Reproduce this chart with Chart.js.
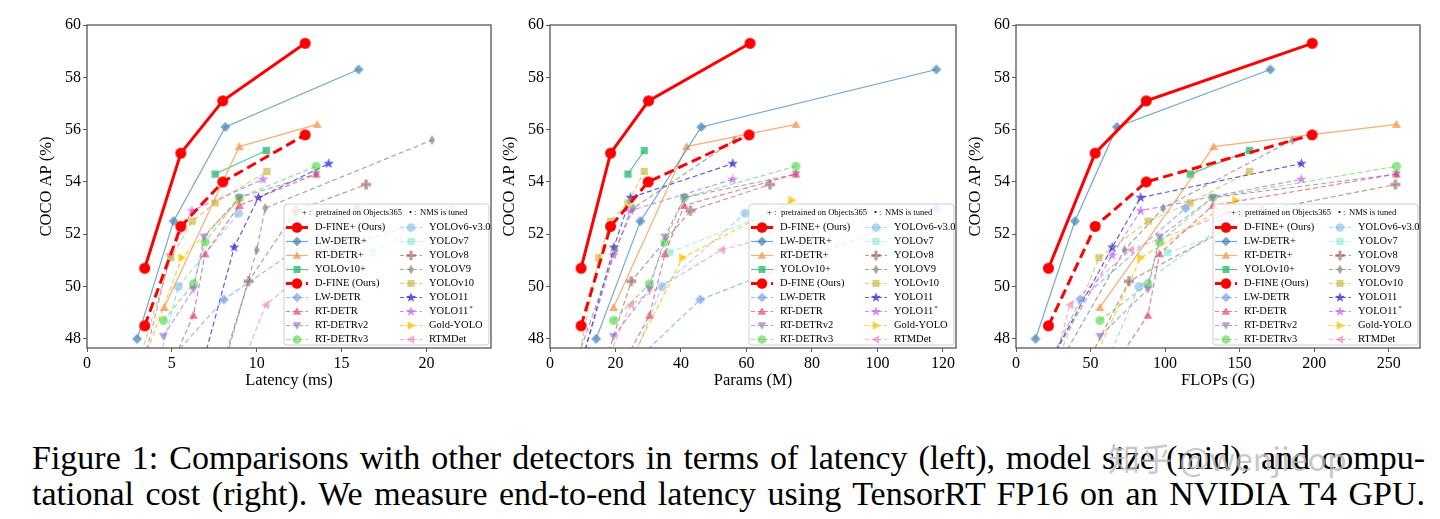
<!DOCTYPE html>
<html><head><meta charset="utf-8">
<script src="https://cdn.jsdelivr.net/npm/chart.js@4.4.1/dist/chart.umd.min.js"></script>
<style>
html,body{margin:0;padding:0;background:#fff;}
body{width:1440px;height:519px;position:relative;overflow:hidden;}
canvas{position:absolute;top:0;}
.cap{position:absolute;left:32px;font-family:'Liberation Serif','Times New Roman',serif;font-size:34px;line-height:36px;white-space:nowrap;color:#000;display:inline-block;}
.wm{position:absolute;left:1108px;top:437px;font-family:'Noto Sans CJK SC','Noto Sans',sans-serif;font-size:32px;line-height:40px;color:rgba(185,185,185,0.8);white-space:nowrap;}
</style></head><body>
<canvas id="c1" width="500" height="400" style="left:0px"></canvas>
<canvas id="c2" width="500" height="400" style="left:463px"></canvas>
<canvas id="c3" width="500" height="400" style="left:929px"></canvas>
<div class="cap" id="l1" style="top:440px">Figure 1: Comparisons with other detectors in terms of latency (left), model size (mid), and compu-</div>
<div class="cap" id="l2" style="top:476px">tational cost (right). We measure end-to-end latency using TensorRT FP16 on an NVIDIA T4 GPU.</div>
<div class="wm">知乎 @wenjieop</div>
<script>
// ---------------- data (AP in %, latency ms, params M, FLOPs G) ----------------
const apDfinePlus = [50.7, 55.1, 57.1, 59.3];
const latDfinePlus = [3.4, 5.53, 8.0, 12.85];
const parDfinePlus = [9.5, 18.5, 30.1, 61.1];
const flopDfinePlus = [21.8, 53.1, 87.4, 198.7];

const apDfine = [48.5, 52.3, 54.0, 55.8];
const latDfine = [3.4, 5.53, 8.0, 12.85];
const parDfine = [9.5, 18.5, 30.0, 60.8];
const flopDfine = [21.8, 53.1, 87.4, 198.6];

const apLwPlus = [48.0, 52.5, 56.1, 58.3];
const latLwPlus = [2.95, 5.1, 8.15, 16.0];
const parLwPlus = [14.1, 27.6, 46.2, 118.0];
const flopLwPlus = [13.1, 39.5, 67.7, 170.6];

const apRtPlus = [49.2, 55.35, 56.2];
const latRtPlus = [4.55, 8.97, 13.56];
const parRtPlus = [19.4, 41.7, 75.1];
const flopRtPlus = [56.3, 132.6, 255.2];

const apY10Plus = [54.3, 55.2];
const latY10Plus = [7.55, 10.56];
const parY10Plus = [23.8, 28.8];
const flopY10Plus = [116.9, 156.7];

const apLw = [47.4, 49.5, 53.0];
const latLw = [5.16, 8.06, 15.9];
const parLw = [28.2, 45.9, 118.0];
const flopLw = [25.0, 43.3, 113.8];

const apRt = [46.5, 48.9, 51.25, 53.1, 54.3];
const latRt = [4.63, 6.27, 6.96, 8.97, 13.5];
const parRt = [20.0, 30.4, 35.1, 41.0, 75.1];
const flopRt = [60.0, 88.5, 96.3, 132.0, 255.2];

const apRtv2 = [48.1, 49.9, 51.9, 53.4, 54.3];
const latRtv2 = [4.5, 6.27, 6.9, 8.97, 13.5];
const parRtv2 = [19.4, 30.4, 35.1, 41.0, 75.1];
const flopRtv2 = [56.3, 88.5, 96.3, 132.0, 255.2];

const apRtv3 = [48.7, 50.1, 51.7, 53.4, 54.6];
const latRtv3 = [4.5, 6.27, 6.96, 8.97, 13.5];
const parRtv3 = [19.4, 30.4, 35.1, 41.0, 75.1];
const flopRtv3 = [56.3, 88.5, 96.3, 132.0, 255.2];

const apY6 = [45.0, 50.0, 52.8];
const latY6 = [3.4, 5.38, 8.93];
const parY6 = [18.5, 34.2, 59.6];
const flopY6 = [45.3, 82.4, 150.7];

const apY7 = [51.3, 53.0];
const latY7 = [16.8, 21.5];
const parY7 = [36.5, 71.2];
const flopY7 = [101.5, 189.9];

const apY8 = [44.9, 50.2, 52.9, 53.9];
const latY8 = [6.96, 9.52, 12.31, 16.44];
const parY8 = [11.2, 24.8, 42.9, 67.2];
const flopY8 = [28.6, 75.7, 165.0, 254.5];

const apY9 = [46.8, 51.4, 53.0, 55.6];
const latY9 = [8.0, 10.0, 10.5, 20.33];
const parY9 = [7.1, 20.0, 25.5, 56.4];
const flopY9 = [26.4, 72.8, 98.8, 185.4];

const apY10 = [46.3, 51.1, 52.5, 53.2, 54.4];
const latY10 = [2.65, 4.94, 6.2, 7.55, 10.6];
const parY10 = [7.2, 14.9, 18.5, 23.8, 28.8];
const flopY10 = [21.6, 55.6, 88.7, 116.9, 156.7];

const apY11 = [47.0, 51.5, 53.4, 54.7];
const latY11 = [6.8, 8.67, 10.1, 14.24];
const parY11 = [9.4, 19.5, 24.6, 55.8];
const flopY11 = [21.5, 64.5, 83.6, 191.4];

const apY11s = [47.0, 51.2, 52.9, 54.1];
const latY11s = [3.3, 4.9, 6.18, 10.37];
const parY11s = [9.4, 19.4, 24.6, 55.8];
const flopY11s = [21.5, 64.5, 83.6, 191.4];

const apGold = [46.4, 51.1, 53.3];
const latGold = [2.9, 5.58, 8.97];
const parGold = [21.5, 40.5, 73.9];
const flopGold = [46.0, 83.6, 147.3];

const apRtm = [44.6, 49.3, 51.4, 52.8];
const latRtm = [7.7, 10.53, 14.5, 21.5];
const parRtm = [8.9, 24.6, 52.4, 94.9];
const flopRtm = [14.8, 36.1, 76.8, 141.7];

const apTicks = [48, 50, 52, 54, 56, 58, 60];
const latTicks = [0, 5, 10, 15, 20];
const parTicks = [0, 20, 40, 60, 80, 100, 120];
const flopTicks = [0, 50, 100, 150, 200, 250];

// ---------------- series (values + styles) ----------------
const SERIES = [
  {name:'D-FINE+ (Ours)', ap:apDfinePlus, lat:latDfinePlus, par:parDfinePlus, flop:flopDfinePlus, shape:'circle', color:'rgb(255,0,0)', lw:3, dash:[], size:11},
  {name:'D-FINE (Ours)', ap:apDfine, lat:latDfine, par:parDfine, flop:flopDfine, shape:'circle', color:'rgb(255,0,0)', lw:3, dash:[10,5], size:11},
  {name:'LW-DETR+', ap:apLwPlus, lat:latLwPlus, par:parLwPlus, flop:flopLwPlus, shape:'diamond', color:'rgba(70,135,185,0.75)', lw:1.2, dash:[], size:10},
  {name:'RT-DETR+', ap:apRtPlus, lat:latRtPlus, par:parRtPlus, flop:flopRtPlus, shape:'tri_up', color:'rgba(244,160,90,0.85)', lw:1.2, dash:[], size:9},
  {name:'YOLOv10+', ap:apY10Plus, lat:latY10Plus, par:parY10Plus, flop:flopY10Plus, shape:'square', color:'rgba(50,185,120,0.8)', lw:1.2, dash:[], size:9},
  {name:'LW-DETR', ap:apLw, lat:latLw, par:parLw, flop:flopLw, shape:'diamond', color:'rgba(100,150,237,0.65)', lw:1.2, dash:[5,3], size:10},
  {name:'RT-DETR', ap:apRt, lat:latRt, par:parRt, flop:flopRt, shape:'tri_up', color:'rgba(220,60,100,0.65)', lw:1.2, dash:[5,3], size:9},
  {name:'RT-DETRv2', ap:apRtv2, lat:latRtv2, par:parRtv2, flop:flopRtv2, shape:'tri_down', color:'rgba(140,110,200,0.65)', lw:1.2, dash:[5,3], size:9},
  {name:'RT-DETRv3', ap:apRtv3, lat:latRtv3, par:parRtv3, flop:flopRtv3, shape:'circle', color:'rgba(70,215,60,0.6)', lw:1.2, dash:[5,3], size:9},
  {name:'YOLOv6-v3.0', ap:apY6, lat:latY6, par:parY6, flop:flopY6, shape:'circle', color:'rgba(110,180,230,0.55)', lw:1.2, dash:[5,3], size:9},
  {name:'YOLOv7', ap:apY7, lat:latY7, par:parY7, flop:flopY7, shape:'square', color:'rgba(100,230,190,0.5)', lw:1.2, dash:[5,3], size:9},
  {name:'YOLOv8', ap:apY8, lat:latY8, par:parY8, flop:flopY8, shape:'plus', color:'rgba(150,100,90,0.65)', lw:1.2, dash:[5,3], size:10},
  {name:'YOLOV9', ap:apY9, lat:latY9, par:parY9, flop:flopY9, shape:'thin_diamond', color:'rgba(128,128,128,0.7)', lw:1.2, dash:[5,3], size:10},
  {name:'YOLOv10', ap:apY10, lat:latY10, par:parY10, flop:flopY10, shape:'square', color:'rgba(195,175,40,0.6)', lw:1.2, dash:[5,3], size:9},
  {name:'YOLO11', ap:apY11, lat:latY11, par:parY11, flop:flopY11, shape:'star', color:'rgba(40,40,210,0.75)', lw:1.2, dash:[5,3], size:11},
  {name:'YOLO11*', ap:apY11s, lat:latY11s, par:parY11s, flop:flopY11s, shape:'star', color:'rgba(180,70,220,0.6)', lw:1.2, dash:[5,3], size:11},
  {name:'Gold-YOLO', ap:apGold, lat:latGold, par:parGold, flop:flopGold, shape:'tri_right', color:'rgba(255,195,0,0.8)', lw:1.2, dash:[5,3], size:9},
  {name:'RTMDet', ap:apRtm, lat:latRtm, par:parRtm, flop:flopRtm, shape:'tri_left', color:'rgba(235,120,175,0.6)', lw:1.2, dash:[5,3], size:9}
];
const BYNAME = {}; SERIES.forEach(s => BYNAME[s.name] = s);
const LEGEND_COLS = [
  ['D-FINE+ (Ours)','LW-DETR+','RT-DETR+','YOLOv10+','D-FINE (Ours)','LW-DETR','RT-DETR','RT-DETRv2','RT-DETRv3'],
  ['YOLOv6-v3.0','YOLOv7','YOLOv8','YOLOV9','YOLOv10','YOLO11','YOLO11*','Gold-YOLO','RTMDet']
];

const SERIF = "'Liberation Serif', 'Times New Roman', serif";

function drawShape(ctx, shape, x, y, s, color) {
  const r = s / 2;
  ctx.save();
  ctx.setLineDash([]);
  ctx.fillStyle = color;
  ctx.beginPath();
  if (shape === 'circle') { ctx.arc(x, y, r, 0, Math.PI * 2); }
  else if (shape === 'square') { const h = r * 0.82; ctx.rect(x - h, y - h, 2 * h, 2 * h); }
  else if (shape === 'diamond') { ctx.moveTo(x, y - r); ctx.lineTo(x + r, y); ctx.lineTo(x, y + r); ctx.lineTo(x - r, y); ctx.closePath(); }
  else if (shape === 'thin_diamond') { const w = r * 0.6; ctx.moveTo(x, y - r); ctx.lineTo(x + w, y); ctx.lineTo(x, y + r); ctx.lineTo(x - w, y); ctx.closePath(); }
  else if (shape === 'tri_up') { ctx.moveTo(x, y - r); ctx.lineTo(x + r, y + r * 0.75); ctx.lineTo(x - r, y + r * 0.75); ctx.closePath(); }
  else if (shape === 'tri_down') { ctx.moveTo(x, y + r); ctx.lineTo(x + r, y - r * 0.75); ctx.lineTo(x - r, y - r * 0.75); ctx.closePath(); }
  else if (shape === 'tri_right') { ctx.moveTo(x + r, y); ctx.lineTo(x - r * 0.75, y - r); ctx.lineTo(x - r * 0.75, y + r); ctx.closePath(); }
  else if (shape === 'tri_left') { ctx.moveTo(x - r, y); ctx.lineTo(x + r * 0.75, y - r); ctx.lineTo(x + r * 0.75, y + r); ctx.closePath(); }
  else if (shape === 'plus') {
    const t = r / 3;
    ctx.moveTo(x - t, y - r); ctx.lineTo(x + t, y - r); ctx.lineTo(x + t, y - t); ctx.lineTo(x + r, y - t);
    ctx.lineTo(x + r, y + t); ctx.lineTo(x + t, y + t); ctx.lineTo(x + t, y + r); ctx.lineTo(x - t, y + r);
    ctx.lineTo(x - t, y + t); ctx.lineTo(x - r, y + t); ctx.lineTo(x - r, y - t); ctx.lineTo(x - t, y - t); ctx.closePath();
  }
  else if (shape === 'star') {
    for (let i = 0; i < 10; i++) {
      const a = -Math.PI / 2 + i * Math.PI / 5;
      const rr = i % 2 ? r * 0.42 : r;
      const px = x + rr * Math.cos(a), py = y + rr * Math.sin(a);
      if (i === 0) ctx.moveTo(px, py); else ctx.lineTo(px, py);
    }
    ctx.closePath();
  }
  ctx.fill();
  ctx.restore();
}

function makeMarker(shape, size, color) {
  const n = Math.ceil(size) + 4;
  const c = document.createElement('canvas');
  c.width = n; c.height = n;
  drawShape(c.getContext('2d'), shape, n / 2, n / 2, size, color);
  return c;
}

function roundRect(ctx, x, y, w, h, r) {
  ctx.beginPath();
  ctx.moveTo(x + r, y); ctx.lineTo(x + w - r, y); ctx.arcTo(x + w, y, x + w, y + r, r);
  ctx.lineTo(x + w, y + h - r); ctx.arcTo(x + w, y + h, x + w - r, y + h, r);
  ctx.lineTo(x + r, y + h); ctx.arcTo(x, y + h, x, y + h - r, r);
  ctx.lineTo(x, y + r); ctx.arcTo(x, y, x + r, y, r); ctx.closePath();
}

function drawLegend(chart) {
  const ctx = chart.ctx, ca = chart.chartArea;
  const L = ca.right - 207, R = ca.right - 2, T = ca.top + 179, B = ca.bottom - 3;
  ctx.save();
  roundRect(ctx, L, T, R - L, B - T, 3);
  ctx.fillStyle = 'rgba(255,255,255,0.8)';
  ctx.fill();
  ctx.strokeStyle = 'rgba(204,204,204,0.9)';
  ctx.lineWidth = 1;
  ctx.stroke();
  ctx.fillStyle = '#000';
  ctx.textBaseline = 'middle';
  ctx.textAlign = 'left';
  const hy = T + 9;
  ctx.font = '8.5px ' + SERIF;
  ctx.fillText('+ :', L + 18, hy);
  ctx.fillText('pretrained on Objects365', L + 32, hy);
  ctx.fillText('\u2022 :', L + 125, hy);
  ctx.fillText('NMS is tuned', L + 136, hy);
  LEGEND_COLS.forEach((col, ci) => {
    col.forEach((name, ri) => {
      const s = BYNAME[name];
      const y = T + 23.5 + 14 * ri;
      const mx = L + (ci ? 127 : 13);
      ctx.save();
      ctx.strokeStyle = s.color;
      ctx.lineWidth = s.lw;
      ctx.setLineDash(s.dash.length ? (s.lw > 2 ? [6, 4] : [4, 2.5]) : []);
      ctx.beginPath(); ctx.moveTo(mx - 11, y); ctx.lineTo(mx + 11, y); ctx.stroke();
      ctx.restore();
      drawShape(ctx, s.shape, mx, y, s.size * 0.95, s.color);
      const tx = L + (ci ? 145 : 31);
      ctx.fillStyle = '#000';
      ctx.font = '10.5px ' + SERIF;
      if (name === 'YOLO11*') {
        ctx.fillText('YOLO11', tx, y);
        const w = ctx.measureText('YOLO11').width;
        ctx.font = '7px ' + SERIF;
        ctx.fillText('*', tx + w + 1, y - 3);
      } else {
        ctx.fillText(name, tx, y);
      }
    });
  });
  ctx.restore();
}

const framePlugin = {
  id: 'frameLegend',
  afterDatasetsDraw(chart) {
    const ctx = chart.ctx, ca = chart.chartArea;
    ctx.save();
    ctx.strokeStyle = '#555';
    ctx.lineWidth = 1.3;
    ctx.strokeRect(ca.left, ca.top, ca.right - ca.left, ca.bottom - ca.top);
    ctx.restore();
    drawLegend(chart);
  }
};

const MARKERS = SERIES.map(s => makeMarker(s.shape, s.size, s.color));

function buildChart(id, key, ticks, xmax, xTitle, padRight) {
  const datasets = SERIES.map((s, i) => ({
    label: s.name,
    data: s.ap.map((y, j) => ({x: s[key][j], y: y})),
    showLine: true,
    borderColor: s.color,
    borderWidth: s.lw,
    borderDash: s.dash,
    backgroundColor: s.color,
    pointStyle: MARKERS[i],
    pointRadius: 4,
    pointHoverRadius: 4,
    tension: 0,
    fill: false
  }));
  return new Chart(document.getElementById(id), {
    type: 'scatter',
    data: {datasets},
    plugins: [framePlugin],
    options: {
      responsive: false,
      animation: false,
      events: [],
      layout: {padding: {top: 25, right: padRight, bottom: 0, left: 0}},
      plugins: {legend: {display: false}, tooltip: {enabled: false}},
      scales: {
        x: {
          type: 'linear', min: 0, max: xmax,
          afterBuildTicks: sc => { sc.ticks = ticks.map(v => ({value: v})); },
          afterFit: sc => { sc.height = 52; },
          ticks: {color: '#000', font: {family: SERIF, size: 16}, padding: 2, maxRotation: 0, autoSkip: false},
          grid: {drawOnChartArea: false, drawTicks: true, tickLength: 4, tickColor: '#333', tickWidth: 0.8},
          border: {display: false},
          title: {display: true, text: xTitle, color: '#000', font: {family: SERIF, size: 16.5}, padding: {top: 0, bottom: 9}}
        },
        y: {
          type: 'linear', min: 47.65, max: 60,
          afterBuildTicks: sc => { sc.ticks = apTicks.map(v => ({value: v})); },
          afterFit: sc => { sc.width = 87; },
          ticks: {color: '#000', font: {family: SERIF, size: 16}, padding: 2, autoSkip: false},
          grid: {drawOnChartArea: false, drawTicks: true, tickLength: 4, tickColor: '#333', tickWidth: 0.8},
          border: {display: false},
          title: {display: true, text: 'COCO AP (%)', color: '#000', font: {family: SERIF, size: 16.5}, padding: {top: 37, bottom: 0}}
        }
      }
    }
  });
}

buildChart('c1', 'lat', latTicks, 23.8, 'Latency (ms)', 9);
buildChart('c2', 'par', parTicks, 124, 'Params (M)', 6);
buildChart('c3', 'flop', flopTicks, 271, 'FLOPs (G)', 9);

function fitLine(id, target) {
  const el = document.getElementById(id);
  el.style.wordSpacing = '0px';
  const w = el.getBoundingClientRect().width;
  const n = (el.textContent.match(/ /g) || []).length;
  el.style.wordSpacing = ((target - w) / n) + 'px';
}
fitLine('l1', 1393);
fitLine('l2', 1393);
</script>
</body></html>
